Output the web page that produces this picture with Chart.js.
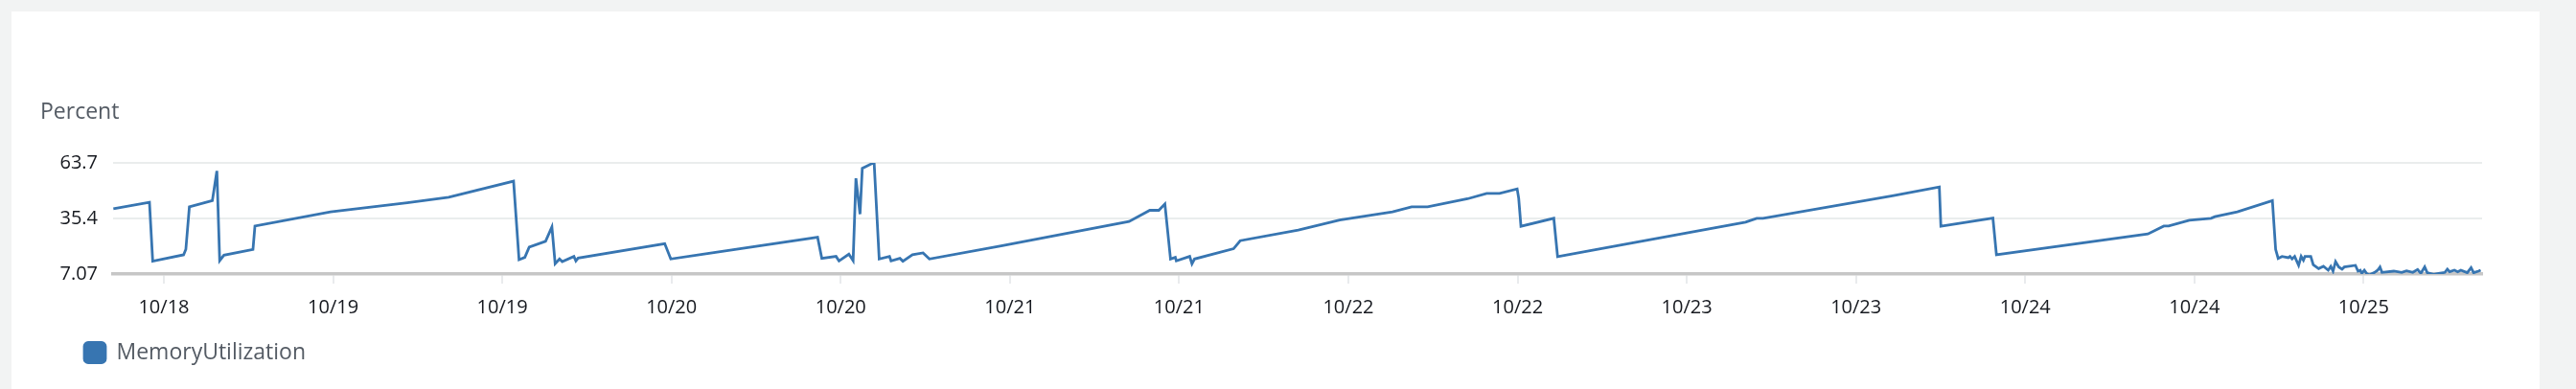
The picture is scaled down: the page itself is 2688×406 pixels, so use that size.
<!DOCTYPE html>
<html>
<head>
<meta charset="utf-8">
<script src="https://cdn.jsdelivr.net/npm/chart.js@4.4.1/dist/chart.umd.min.js"></script>
<style>
  html, body { margin: 0; padding: 0; background: #f2f3f3; }
  #panel { position: absolute; left: 12px; top: 12px; width: 2638px; height: 394px; background: #fff; }
  #wrap { position: absolute; left: 0; top: 0; width: 2688px; height: 406px; }
</style>
</head>
<body>
<div id="panel"></div>
<div id="wrap"><canvas id="chart"></canvas></div>
<script>
// hours since 10/18 00:00
const memHours = [8.42, 10.98, 11.21, 13.40, 13.56, 13.81, 15.44, 15.76, 15.96, 16.26, 18.32, 18.46, 23.82,
  29.26, 32.2, 36.80, 37.19, 37.6, 37.91, 39.07, 39.52, 39.75, 40.06, 40.25, 41.08, 41.22, 41.38, 47.52, 47.95,
  50.32, 58.36, 58.66, 59.67, 59.88, 60.58, 60.88, 61.08, 61.37, 61.53, 62.37, 62.73, 63.46, 63.57, 64.2, 64.41,
  65.09, 65.84, 66.29, 71.38, 80.45, 81.92, 82.56, 82.99, 83.39, 83.73, 83.8, 84.75, 84.91, 85.09, 87.86, 88.33,
  92.45, 95.39, 99.13, 100.49, 101.62, 104.45, 105.81, 106.72, 107.97, 108.08, 108.24, 110.57, 110.84, 113.51,
  124.17, 124.96, 125.41, 134.58, 137.91, 138.02, 141.71, 141.96, 152.7, 153.83, 154.17, 155.64, 157.18, 157.45,
  159.04, 161.53, 161.76, 161.94, 162.21, 162.66, 162.78, 162.93, 163.11, 163.39, 163.57, 163.73, 163.84, 164.25,
  164.43, 164.81, 165.15, 165.49, 165.67, 165.83, 166.01, 166.24, 166.47, 166.63, 167.42, 167.6, 167.76, 167.87,
  168.05, 168.21, 168.39, 168.78, 169.0, 169.16, 169.3, 170.14, 170.7, 171.04, 171.49, 171.83, 172.06, 172.33,
  172.51, 172.97, 173.31, 173.76, 173.94, 174.1, 174.44, 174.67, 174.89, 175.35, 175.62, 175.8, 176.14, 176.3];
const memValues = [40.35, 43.6, 13.6, 16.86, 19.63, 41.33, 44.43, 59.6, 13.92, 16.7, 19.63, 31.54, 38.72,
  43.4, 46.2, 54.4, 14.4, 15.55, 20.77, 23.7, 31.05, 12.29, 14.74, 13.43, 16.04, 13.76, 15.23, 22.57, 14.74,
  17.3, 25.83, 15.06, 16.04, 13.76, 17.18, 13.92, 55.85, 37.58, 60.9, 63.9, 14.74, 16.04, 13.76, 15.06, 13.6,
  16.86, 17.84, 14.74, 21.4, 33.82, 39.53, 39.53, 42.8, 14.74, 15.55, 13.76, 16.04, 12.29, 14.74, 19.96, 24.04,
  29.42, 34.64, 38.72, 41.33, 41.33, 45.4, 48.18, 48.18, 50.46, 45.73, 31.38, 35.46, 15.88, 19.5,
  33.5, 35.46, 35.46, 46.95, 51.44, 31.38, 35.62, 16.86, 27.46, 31.54, 31.54, 34.5, 35.46, 36.27,
  38.72, 44.43, 19.63, 15.06, 16.04, 15.39, 16.04, 14.74, 16.04, 11.47, 16.04, 14.08, 16.04, 16.04,
  11.8, 9.84, 10.98, 9.03, 10.98, 8.54, 13.43, 10.66, 9.52, 10.66, 11.47, 8.54, 9.03, 7.4,
  9.03, 7.4, 6.58, 7.89, 9.03, 10.66, 7.89, 8.54, 7.89, 8.7, 7.89, 9.35, 7.4, 10.66,
  7.72, 6.91, 7.4, 7.89, 9.52, 8.21, 9.03, 8.21, 9.03, 7.72, 10.33, 7.72, 8.54, 9.03];

const xTickHours = [12, 24, 36, 48, 60, 72, 84, 96, 108, 120, 132, 144, 156, 168];
const xTickLabels = ["10/18", "10/19", "10/19", "10/20", "10/20", "10/21", "10/21",
  "10/22", "10/22", "10/23", "10/23", "10/24", "10/24", "10/25"];
const yTickValues = [7.07, 35.4, 63.7];
const yTickLabels = ["7.07", "35.4", "63.7"];

const LINE_COLOR = "#3775b1";
Chart.defaults.font.family = "'Open Sans', sans-serif";

const ctx = document.getElementById("chart").getContext("2d");
new Chart(ctx, {
  type: "line",
  data: {
    datasets: [{
      label: "MemoryUtilization",
      data: memHours.map((h, i) => ({ x: h, y: memValues[i] })),
      borderColor: LINE_COLOR,
      backgroundColor: LINE_COLOR,
      borderWidth: 2.8,
      pointRadius: 0,
      tension: 0,
      fill: false
    }]
  },
  options: {
    responsive: true,
    maintainAspectRatio: false,
    animation: false,
    layout: { padding: { top: 0, left: 42, right: 98, bottom: 16.5 } },
    scales: {
      x: {
        type: "linear",
        min: 8.4,
        max: 176.4,
        afterBuildTicks: (scale) => { scale.ticks = xTickHours.map(v => ({ value: v })); },
        // labels are mirrored (not clipped to the short axis box), negative padding pushes them below
        afterFit: (scale) => { scale.height = 24.5; },
        ticks: {
          autoSkip: false,
          maxRotation: 0,
          mirror: true,
          padding: -47,
          color: "#16191f",
          font: { size: 20 },
          callback: (v, i) => xTickLabels[i]
        },
        grid: { drawOnChartArea: false, drawTicks: true, tickLength: 10, color: "#e9ebed", lineWidth: 2 },
        border: { display: true, color: "#c6c6c6", width: 3.5 }
      },
      y: {
        min: 7.07,
        max: 63.7,
        afterBuildTicks: (scale) => { scale.ticks = yTickValues.map(v => ({ value: v })); },
        afterFit: (scale) => { scale.width = 76; },
        ticks: {
          padding: 16,
          color: "#16191f",
          font: { size: 20 },
          callback: (v, i) => yTickLabels[i]
        },
        grid: { drawTicks: false, color: "#eaeded", lineWidth: 2 },
        border: { display: false }
      }
    },
    plugins: {
      title: {
        display: true,
        text: "Percent",
        align: "start",
        color: "#545b64",
        font: { size: 23, weight: "normal" },
        padding: { top: 103.2, bottom: 39.2 }
      },
      legend: {
        position: "bottom",
        align: "start",
        labels: {
          boxWidth: 22,
          boxHeight: 21,
          useBorderRadius: true,
          borderRadius: 4,
          padding: 46,
          color: "#545b64",
          font: { size: 23 }
        }
      },
      tooltip: { enabled: false }
    }
  }
});
</script>
</body>
</html>
